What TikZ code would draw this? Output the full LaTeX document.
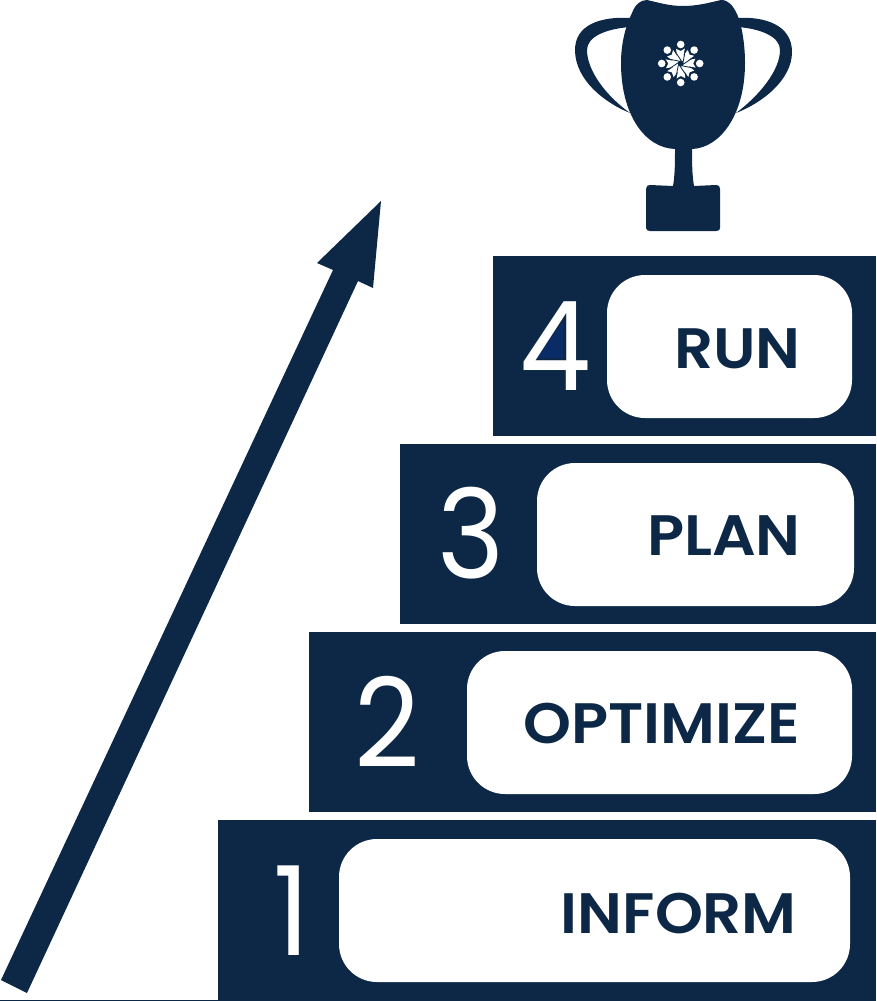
\documentclass[tikz,border=0pt]{standalone}
\usepackage{fontspec}
\setmainfont{Poppins}
\newfontfamily\digitfont[FakeStretch=0.92]{Poppins}
\newfontfamily\tagfont[FakeStretch=1.07]{Poppins SemiBold}
\definecolor{navy}{HTML}{0C2846}
\definecolor{deepblue}{HTML}{0A2C66}
\tikzset{
  tier/.style={fill=navy,draw=none},
  pill/.style={fill=white,draw=none,rounded corners=38pt},
  numeral/.style={text=white,anchor=base,inner sep=0pt,font=\digitfont\fontsize{124}{124}\selectfont},
  tag/.style={text=navy,anchor=base east,inner sep=0pt,font=\tagfont\fontsize{57}{57}\selectfont},
}
\begin{document}
\begin{tikzpicture}[x=1pt,y=-1pt]
\useasboundingbox (0,0) rectangle (876,1001);
% ground line
\fill[navy] (0,999.6) rectangle (876,1001);
% tiers
\fill[tier] (493,256) rectangle (876,436);
\fill[tier] (400,444) rectangle (876,624);
\fill[tier] (309,632) rectangle (876,812);
\fill[tier] (218,820) rectangle (876,1001);
\fill[pill] (607,275) rectangle (852,418);
\fill[pill] (537,463) rectangle (854,606);
\fill[pill] (467,651) rectangle (852,794);
\fill[pill] (339,839) rectangle (850,982);
\fill[deepblue] (537,358) -- (563,322) -- (563,358) -- cycle;
\node[numeral] (n4) at (555,390) {4};
\node[numeral] (n3) at (471,578) {3};
\node[numeral] (n2) at (387,767) {2};
\node[numeral] (n1) at (292,955) {1};
\node[tag] (t4) at (801,368) {RUN};
\node[tag] (t3) at (801,555) {PLAN};
\node[tag] (t2) at (800,743) {OPTIMIZE};
\node[tag] (t1) at (797,933) {INFORM};
% arrow
\fill[navy] (1,980) -- (27,993) -- (358,281) -- (373,288) -- (381,201) -- (317,263) -- (333,270) -- cycle;
% trophy handles
\fill[navy] (632,18) .. controls (600,16) and (575,25) .. (575,50)
  .. controls (575,80) and (605,103) .. (630,113)
  .. controls (605,95) and (587,70) .. (587,50)
  .. controls (587,37) and (605,29) .. (630,27) -- cycle;
\fill[navy] (735,18) .. controls (765,16) and (792,25) .. (792,52)
  .. controls (792,80) and (762,103) .. (736,113)
  .. controls (760,95) and (780,70) .. (780,50)
  .. controls (780,37) and (762,29) .. (738,27) -- cycle;
% cup
\fill[navy] (632,13) .. controls (635,5) and (640,0) .. (647,0)
  .. controls (660,3) and (670,6) .. (683,6)
  .. controls (697,6) and (708,3) .. (721,0)
  .. controls (729,0) and (733,6) .. (737,14)
  .. controls (742,25) and (745,45) .. (745,63)
  .. controls (745,115) and (720,148) .. (692,149)
  .. controls (692,160) and (692,175) .. (694,186)
  -- (716,185) .. controls (719,185) and (720,186) .. (720,189)
  -- (720,228) .. controls (720,230) and (719,231) .. (716,231)
  -- (650,231) .. controls (648,231) and (646,230) .. (646,228)
  -- (646,189) .. controls (646,186) and (648,185) .. (650,185)
  -- (673,186) .. controls (675,175) and (675,160) .. (675,149)
  .. controls (645,148) and (621,115) .. (621,63)
  .. controls (621,45) and (625,27) .. (632,13) -- cycle;
% emblem
\begin{scope}[shift={(680.7,63.5)}]
  \foreach \a in {0,45,...,315}{
    \fill[white,rotate=\a] (0,-19) circle (3.8);
    \fill[white,rotate=\a] (-3.2,-2.4) -- (-4.6,-14.6) -- (0,-12.5) -- (4.2,-15) -- (1.8,-3.4) -- cycle;
  }
  \foreach \a in {22,67,...,337}{
    \draw[navy,line width=0.8pt,rotate=\a] (1.6,-2.2) -- (-1.5,-17);
  }
  \fill[navy] (0,0) circle (2.4);
\end{scope}
\end{tikzpicture}
\end{document}
